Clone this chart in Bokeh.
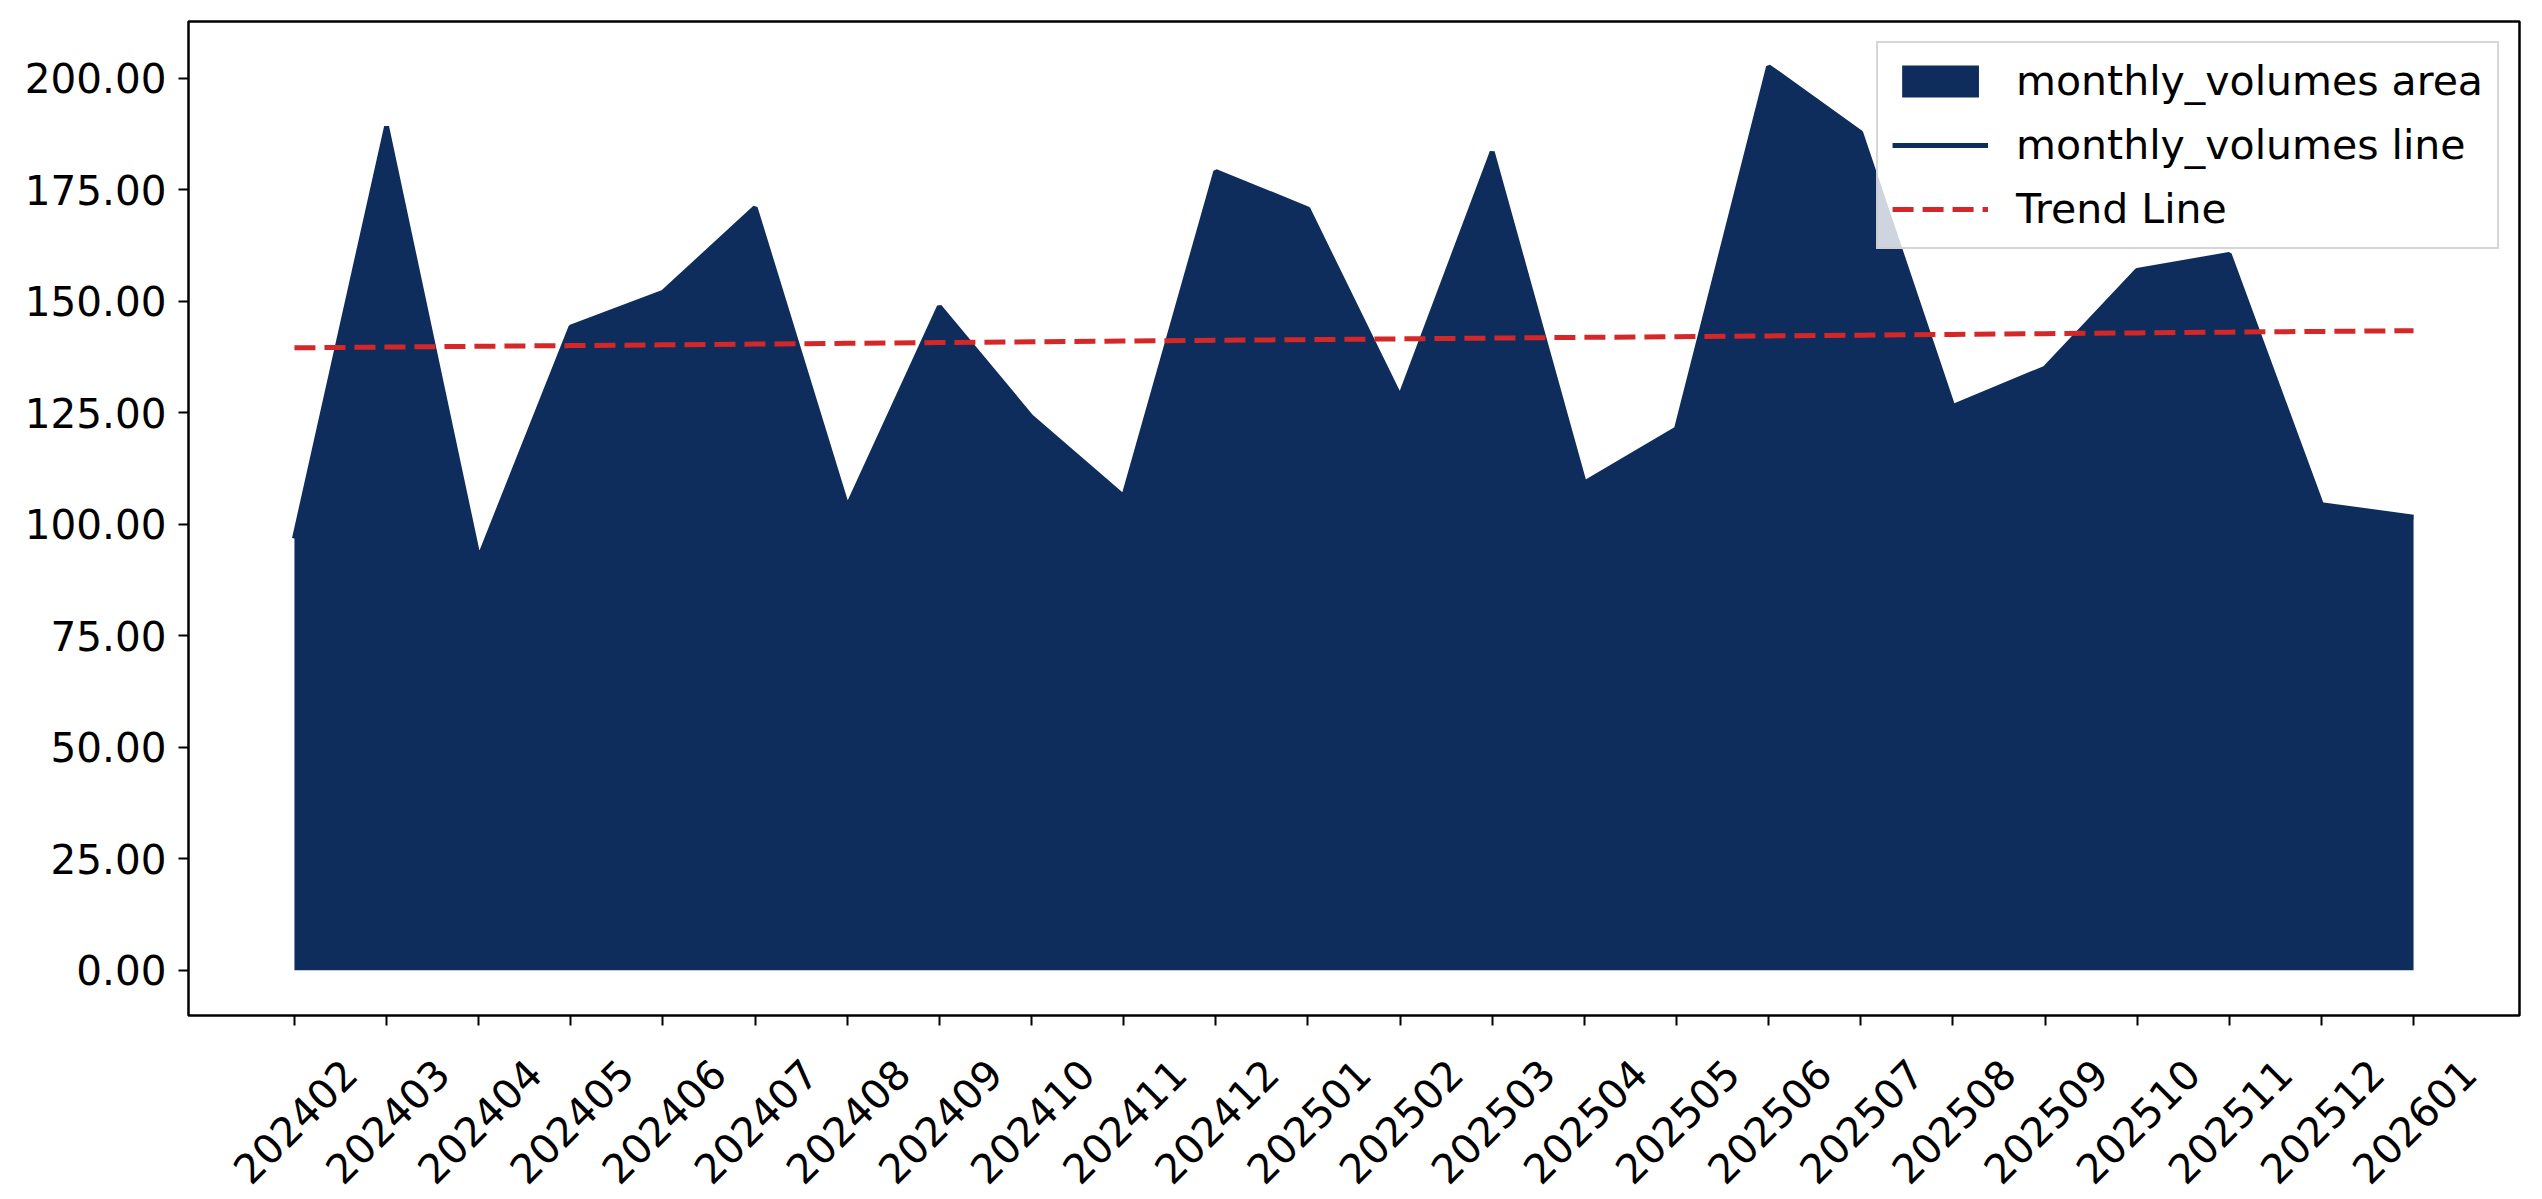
import math
import numpy as np
from bokeh.plotting import figure
from bokeh.models import (Range1d, FixedTicker, PrintfTickFormatter, LinearAxis,
                          Legend, LegendItem, ColumnDataSource, CustomLabelingPolicy)
from bokeh.embed import file_html
from bokeh.resources import INLINE

# ---- data ----
months = ["202402", "202403", "202404", "202405", "202406", "202407", "202408",
          "202409", "202410", "202411", "202412", "202501", "202502", "202503",
          "202504", "202505", "202506", "202507", "202508", "202509", "202510",
          "202511", "202512", "202601"]
monthly_volumes = [96.8, 189.2, 92.2, 144.2, 152.0, 171.0, 103.8, 148.8, 124.0,
                   106.2, 179.1, 170.7, 128.5, 183.5, 109.2, 121.4, 202.6, 187.8,
                   126.4, 135.0, 156.9, 160.5, 104.4, 101.6]
y_ticks = [0, 25, 50, 75, 100, 125, 150, 175, 200]

AREA = "#0f2d5c"
RED = "#d62728"
FONT = "DejaVu Sans"

idx = list(range(len(months)))
n = len(months)
coef = np.polyfit(idx, monthly_volumes, 1)
trend = list(np.polyval(coef, idx))

src = ColumnDataSource(dict(x=idx, y=monthly_volumes, trend=trend, zero=[0] * n))

xpad = 0.05 * (n - 1)
ymax = max(monthly_volumes)
ypad = 0.05 * ymax
LABEL_SHIFT = 0.6

p = figure(width=2542, height=1199, frame_width=2331, frame_height=994,
           output_backend="svg", toolbar_location=None,
           x_range=Range1d(-xpad, n - 1 + xpad), y_range=Range1d(-ypad, ymax + ypad),
           min_border_left=188, min_border_right=23, min_border_top=21, min_border_bottom=184)
p.extra_x_ranges = {"lab": Range1d(-xpad - LABEL_SHIFT, n - 1 + xpad - LABEL_SHIFT)}

p.background_fill_color = "white"
p.border_fill_color = "white"
p.outline_line_color = "black"
p.outline_line_width = 2.5
p.xgrid.grid_line_color = None
p.ygrid.grid_line_color = None

r_area = p.varea(x="x", y1="zero", y2="y", source=src, fill_color=AREA, fill_alpha=1.0)
r_line = p.line(x="x", y="y", source=src, line_color=AREA, line_width=5)
r_trend = p.line(x="x", y="trend", source=src, line_color=RED, line_width=5,
                 line_dash="21 9")

# y axis
ya = p.yaxis[0]
ya.ticker = FixedTicker(ticks=y_ticks)
ya.formatter = PrintfTickFormatter(format="%.2f")
ya.axis_line_color = None
ya.major_tick_out = 10
ya.major_tick_in = 0
ya.major_tick_line_width = 2
ya.minor_tick_line_color = None
ya.major_label_standoff = 12
ya.major_label_text_font = FONT
ya.major_label_text_font_size = "40.5px"
ya.major_label_text_color = "black"

# x axis: tick marks only (labels drawn by the second, shifted axis)
xa = p.xaxis[0]
xa.ticker = FixedTicker(ticks=idx)
xa.axis_line_color = None
xa.major_tick_out = 10
xa.major_tick_in = 0
xa.major_tick_line_width = 2
xa.minor_tick_line_color = None
xa.major_label_standoff = 0
xa.major_label_policy = CustomLabelingPolicy(code="return new Set()")

# x axis: rotated labels
xb = LinearAxis(x_range_name="lab", ticker=FixedTicker(ticks=idx),
                major_label_overrides={i: m for i, m in zip(idx, months)})
xb.axis_line_color = None
xb.major_tick_out = 0
xb.major_tick_in = 0
xb.major_tick_line_color = None
xb.minor_tick_line_color = None
xb.major_label_orientation = math.pi / 4
xb.major_label_standoff = 30
xb.major_label_text_font = FONT
xb.major_label_text_font_size = "40.5px"
xb.major_label_text_color = "black"
p.add_layout(xb, "below")

legend = Legend(items=[
    LegendItem(label="monthly_volumes area", renderers=[r_area]),
    LegendItem(label="monthly_volumes line", renderers=[r_line]),
    LegendItem(label="Trend Line", renderers=[r_trend]),
], location="top_right")
legend.margin = 20
legend.padding = 14
legend.spacing = 16
legend.glyph_width = 96
legend.glyph_height = 40
legend.label_height = 48
legend.label_standoff = 28
legend.label_text_font = FONT
legend.label_text_font_size = "41px"
legend.label_text_color = "black"
legend.border_line_color = "#cccccc"
legend.border_line_width = 2
legend.border_line_alpha = 0.8
legend.background_fill_color = "white"
legend.background_fill_alpha = 0.8
p.add_layout(legend)

open("out.html", "w").write(file_html(p, INLINE))
